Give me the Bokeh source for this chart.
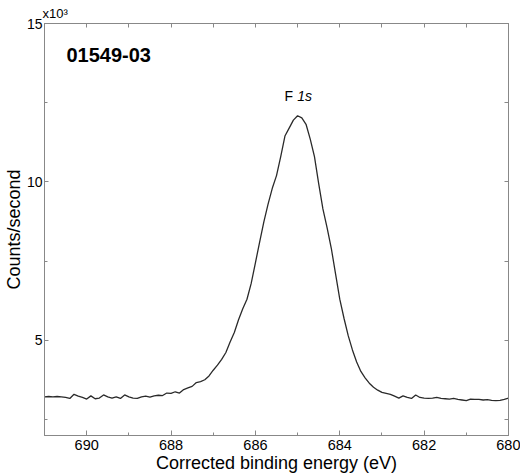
from bokeh.plotting import figure
from bokeh.models import Range1d, LinearAxis, SingleIntervalTicker, Label, CustomJSTickFormatter, ColumnDataSource
from bokeh.embed import file_html
from bokeh.resources import INLINE

# ---- data (counts in units of 10^3 counts/second), sampled every 0.1 eV from 691.0 to 680.0
energy_start = 691.0
energy_step = 0.1
counts_k = [
    3.22, 3.23, 3.22, 3.23, 3.22, 3.20, 3.17, 3.30, 3.24, 3.20,   # 691.0 - 690.1
    3.15, 3.25, 3.16, 3.18, 3.28, 3.22, 3.18, 3.22, 3.17, 3.28,   # 690.0 - 689.1
    3.22, 3.18, 3.17, 3.22, 3.24, 3.21, 3.25, 3.27, 3.26, 3.34,   # 689.0 - 688.1
    3.33, 3.38, 3.34, 3.45, 3.50, 3.55, 3.67, 3.70, 3.76, 3.88,   # 688.0 - 687.1
    4.06, 4.22, 4.40, 4.62, 4.95, 5.25, 5.65, 6.00, 6.30, 6.80,   # 687.0 - 686.1
    7.45, 8.10, 8.74, 9.30, 9.80, 10.20, 10.80, 11.45, 11.70, 11.95,  # 686.0 - 685.1
    12.09, 12.02, 11.82, 11.35, 10.80, 9.95, 9.15, 8.55, 7.90, 7.10,  # 685.0 - 684.1
    6.30, 5.70, 5.15, 4.70, 4.32, 4.02, 3.82, 3.65, 3.52, 3.43,   # 684.0 - 683.1
    3.36, 3.33, 3.30, 3.24, 3.18, 3.25, 3.20, 3.17, 3.28, 3.20,   # 683.0 - 682.1
    3.18, 3.17, 3.18, 3.20, 3.17, 3.16, 3.15, 3.17, 3.14, 3.12,   # 682.0 - 681.1
    3.10, 3.15, 3.14, 3.14, 3.12, 3.13, 3.11, 3.10, 3.11, 3.14,   # 681.0 - 680.1
    3.18,                                                         # 680.0
]
energy = [round(energy_start - energy_step * i, 1) for i in range(len(counts_k))]

x_limits = (691, 680)
y_limits = (2, 15)
sample_name = "01549-03"
peak_element = "F"
peak_orbital = "1s"
x_title = "Corrected binding energy (eV)"
y_title = "Counts/second"
scale_note = "x10\u00b3"

FONT = "Liberation Sans"
AXIS_COLOR = "#888888"

source = ColumnDataSource(data=dict(energy=energy, counts=counts_k))

p = figure(width=520, height=475, output_backend="svg", toolbar_location=None,
           x_range=Range1d(*x_limits), y_range=Range1d(*y_limits),
           x_axis_label=x_title, y_axis_label=y_title, title=scale_note)
p.grid.visible = False
p.background_fill_color = "white"
p.border_fill_color = "white"
p.outline_line_color = AXIS_COLOR
p.outline_line_width = 1
p.min_border_top = 21
p.min_border_right = 12
p.min_border_left = 41
p.min_border_bottom = 40

p.title.align = "left"
p.title.offset = -2
p.title.standoff = 6
p.title.text_font = FONT
p.title.text_font_size = "13px"
p.title.text_font_style = "normal"
p.title.text_color = "black"

# bottom axis
xa = p.xaxis[0]
xa.ticker = SingleIntervalTicker(interval=2, num_minor_ticks=2)
xa.major_tick_in = 5
xa.major_tick_out = 0
xa.minor_tick_in = 3
xa.minor_tick_out = 0
xa.axis_line_color = AXIS_COLOR
xa.major_tick_line_color = AXIS_COLOR
xa.minor_tick_line_color = AXIS_COLOR
xa.major_label_text_font = FONT
xa.major_label_text_font_size = "14.5px"
xa.major_label_text_color = "black"
xa.major_label_standoff = 4
xa.axis_label_text_font = FONT
xa.axis_label_text_font_size = "18px"
xa.axis_label_text_font_style = "normal"
xa.axis_label_text_color = "black"
xa.axis_label_standoff = 0

# left axis
ya = p.yaxis[0]
ya.ticker = SingleIntervalTicker(interval=5, num_minor_ticks=2)
ya.major_tick_in = 4
ya.major_tick_out = 0
ya.minor_tick_in = 3
ya.minor_tick_out = 0
ya.axis_line_color = AXIS_COLOR
ya.major_tick_line_color = AXIS_COLOR
ya.minor_tick_line_color = AXIS_COLOR
ya.major_label_text_font = FONT
ya.major_label_text_font_size = "14px"
ya.major_label_text_color = "black"
ya.major_label_standoff = 2
ya.axis_label_text_font = FONT
ya.axis_label_text_font_size = "18px"
ya.axis_label_text_font_style = "normal"
ya.axis_label_text_color = "black"
ya.axis_label_standoff = 0

blank = CustomJSTickFormatter(code="return ''")

top = LinearAxis(ticker=SingleIntervalTicker(interval=1, num_minor_ticks=0), formatter=blank,
                 major_tick_in=4, major_tick_out=0, minor_tick_in=0, minor_tick_out=0,
                 major_label_text_font_size="0px", major_label_standoff=0,
                 axis_line_color=AXIS_COLOR, major_tick_line_color=AXIS_COLOR)
p.add_layout(top, "above")

right = LinearAxis(ticker=SingleIntervalTicker(interval=2.5, num_minor_ticks=0), formatter=blank,
                   major_tick_in=4, major_tick_out=0, minor_tick_in=0, minor_tick_out=0,
                   major_label_text_font_size="0px", major_label_standoff=0,
                   axis_line_color=AXIS_COLOR, major_tick_line_color=AXIS_COLOR)
p.add_layout(right, "right")

p.line(x="energy", y="counts", source=source, line_color="#2a2a2a", line_width=1.3)

# annotations
p.add_layout(Label(x=690.48, y=14.01, text=sample_name, text_font=FONT, text_font_style="bold",
                   text_font_size="20px", text_color="black", text_align="left", text_baseline="alphabetic"))
p.add_layout(Label(x=685.31, y=12.71, text=peak_element, text_font=FONT, text_font_size="14px",
                   text_color="black", text_align="left", text_baseline="alphabetic"))
p.add_layout(Label(x=685.01, y=12.71, text=peak_orbital, text_font=FONT, text_font_style="italic",
                   text_font_size="14px", text_color="black", text_align="left", text_baseline="alphabetic"))

open("out.html", "w").write(file_html(p, INLINE))
